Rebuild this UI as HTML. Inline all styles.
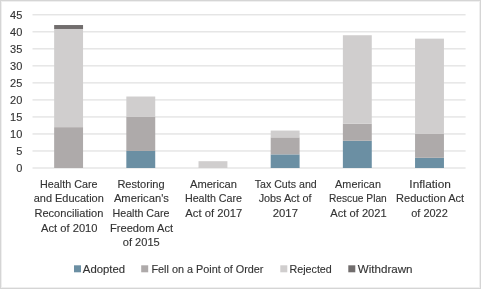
<!DOCTYPE html>
<html><head><meta charset="utf-8"><style>
html,body{margin:0;padding:0;background:#fff;}
body{width:481px;height:289px;overflow:hidden;position:relative;}
svg{position:absolute;left:0;top:0;will-change:transform;}
text{font-family:"Liberation Sans",sans-serif;font-size:10.5px;fill:#333333;stroke:#333333;stroke-width:0.12px;}
</style></head><body>
<svg width="481" height="289" viewBox="0 0 481 289">
<rect x="0" y="0" width="481" height="289" fill="#fff"/>
<rect x="32.5" y="167.50" width="433.10" height="1" fill="#d9d9d9"/>
<rect x="32.5" y="150.48" width="433.10" height="1" fill="#d9d9d9"/>
<rect x="32.5" y="133.46" width="433.10" height="1" fill="#d9d9d9"/>
<rect x="32.5" y="116.44" width="433.10" height="1" fill="#d9d9d9"/>
<rect x="32.5" y="99.42" width="433.10" height="1" fill="#d9d9d9"/>
<rect x="32.5" y="82.40" width="433.10" height="1" fill="#d9d9d9"/>
<rect x="32.5" y="65.38" width="433.10" height="1" fill="#d9d9d9"/>
<rect x="32.5" y="48.36" width="433.10" height="1" fill="#d9d9d9"/>
<rect x="32.5" y="31.34" width="433.10" height="1" fill="#d9d9d9"/>
<rect x="32.5" y="14.32" width="433.10" height="1" fill="#d9d9d9"/>
<rect x="54.15" y="127.15" width="28.9" height="40.85" fill="#aeaaaa"/>
<rect x="54.15" y="28.44" width="28.9" height="98.72" fill="#d0cece"/>
<rect x="54.15" y="25.03" width="28.9" height="3.95" fill="#716d6d"/>
<rect x="126.33" y="150.98" width="28.9" height="17.02" fill="#6b8fa3"/>
<rect x="126.33" y="116.94" width="28.9" height="34.04" fill="#aeaaaa"/>
<rect x="126.33" y="96.52" width="28.9" height="20.42" fill="#d0cece"/>
<rect x="198.51" y="161.19" width="28.9" height="6.81" fill="#d0cece"/>
<rect x="270.69" y="154.38" width="28.9" height="13.62" fill="#6b8fa3"/>
<rect x="270.69" y="137.36" width="28.9" height="17.02" fill="#aeaaaa"/>
<rect x="270.69" y="130.56" width="28.9" height="6.81" fill="#d0cece"/>
<rect x="342.87" y="140.77" width="28.9" height="27.23" fill="#6b8fa3"/>
<rect x="342.87" y="123.75" width="28.9" height="17.02" fill="#aeaaaa"/>
<rect x="342.87" y="35.24" width="28.9" height="88.50" fill="#d0cece"/>
<rect x="415.05" y="157.79" width="28.9" height="10.21" fill="#6b8fa3"/>
<rect x="415.05" y="133.96" width="28.9" height="23.83" fill="#aeaaaa"/>
<rect x="415.05" y="38.65" width="28.9" height="95.31" fill="#d0cece"/>
<text x="22.3" y="172.00" text-anchor="end" style="font-size:11px">0</text>
<text x="22.3" y="154.98" text-anchor="end" style="font-size:11px">5</text>
<text x="22.3" y="137.96" text-anchor="end" style="font-size:11px">10</text>
<text x="22.3" y="120.94" text-anchor="end" style="font-size:11px">15</text>
<text x="22.3" y="103.92" text-anchor="end" style="font-size:11px">20</text>
<text x="22.3" y="86.90" text-anchor="end" style="font-size:11px">25</text>
<text x="22.3" y="69.88" text-anchor="end" style="font-size:11px">30</text>
<text x="22.3" y="52.86" text-anchor="end" style="font-size:11px">35</text>
<text x="22.3" y="35.84" text-anchor="end" style="font-size:11px">40</text>
<text x="22.3" y="18.82" text-anchor="end" style="font-size:11px">45</text>
<text x="40.08" y="187.80" textLength="57.39" lengthAdjust="spacingAndGlyphs">Health Care</text>
<text x="33.78" y="202.40" textLength="69.97" lengthAdjust="spacingAndGlyphs">and Education</text>
<text x="34.41" y="217.00" textLength="68.91" lengthAdjust="spacingAndGlyphs">Reconciliation</text>
<text x="41.09" y="231.60" textLength="56.43" lengthAdjust="spacingAndGlyphs">Act of 2010</text>
<text x="117.4" y="187.80" textLength="47.28" lengthAdjust="spacingAndGlyphs">Restoring</text>
<text x="113.9" y="202.40" textLength="54.97" lengthAdjust="spacingAndGlyphs">American&#39;s</text>
<text x="112.49" y="217.00" textLength="57.01" lengthAdjust="spacingAndGlyphs">Health Care</text>
<text x="110.01" y="231.60" textLength="63.05" lengthAdjust="spacingAndGlyphs">Freedom Act</text>
<text x="122.84" y="246.20" textLength="36.89" lengthAdjust="spacingAndGlyphs">of 2015</text>
<text x="189.96" y="187.80" textLength="47.06" lengthAdjust="spacingAndGlyphs">American</text>
<text x="184.92" y="202.40" textLength="57.12" lengthAdjust="spacingAndGlyphs">Health Care</text>
<text x="185.34" y="217.00" textLength="56.81" lengthAdjust="spacingAndGlyphs">Act of 2017</text>
<text x="254.72" y="187.80" textLength="61.99" lengthAdjust="spacingAndGlyphs">Tax Cuts and</text>
<text x="258.67" y="202.40" textLength="52.87" lengthAdjust="spacingAndGlyphs">Jobs Act of</text>
<text x="272.75" y="217.00" textLength="25.19" lengthAdjust="spacingAndGlyphs">2017</text>
<text x="335.12" y="187.80" textLength="45.83" lengthAdjust="spacingAndGlyphs">American</text>
<text x="328.97" y="202.40" textLength="57.78" lengthAdjust="spacingAndGlyphs">Rescue Plan</text>
<text x="330.39" y="217.00" textLength="56.26" lengthAdjust="spacingAndGlyphs">Act of 2021</text>
<text x="409.36" y="187.80" textLength="41.53" lengthAdjust="spacingAndGlyphs">Inflation</text>
<text x="396.13" y="202.40" textLength="68.03" lengthAdjust="spacingAndGlyphs">Reduction Act</text>
<text x="411.29" y="217.00" textLength="36.53" lengthAdjust="spacingAndGlyphs">of 2022</text>
<rect x="74" y="265.3" width="7" height="7" fill="#6b8fa3"/>
<text x="82.86" y="272.6" textLength="42.21" lengthAdjust="spacingAndGlyphs">Adopted</text>
<rect x="141.2" y="265.3" width="7" height="7" fill="#aeaaaa"/>
<text x="151.46" y="272.6" textLength="112.04" lengthAdjust="spacingAndGlyphs">Fell on a Point of Order</text>
<rect x="280.3" y="265.3" width="7" height="7" fill="#d0cece"/>
<text x="289.49" y="272.6" textLength="42.32" lengthAdjust="spacingAndGlyphs">Rejected</text>
<rect x="348.3" y="265.3" width="7" height="7" fill="#716d6d"/>
<text x="357.76" y="272.6" textLength="54.78" lengthAdjust="spacingAndGlyphs">Withdrawn</text>
<rect x="0" y="0" width="481" height="1" fill="#d5d5d5"/>
<rect x="0" y="1" width="481" height="1" fill="#efefef"/>
<rect x="0" y="288" width="481" height="1" fill="#d5d5d5"/>
<rect x="0" y="287" width="481" height="1" fill="#efefef"/>
<rect x="0" y="0" width="1" height="289" fill="#d5d5d5"/>
<rect x="1" y="1" width="1" height="287" fill="#efefef"/>
<rect x="480" y="0" width="1" height="289" fill="#d5d5d5"/>
<rect x="479" y="1" width="1" height="287" fill="#efefef"/>
</svg>
</body></html>
